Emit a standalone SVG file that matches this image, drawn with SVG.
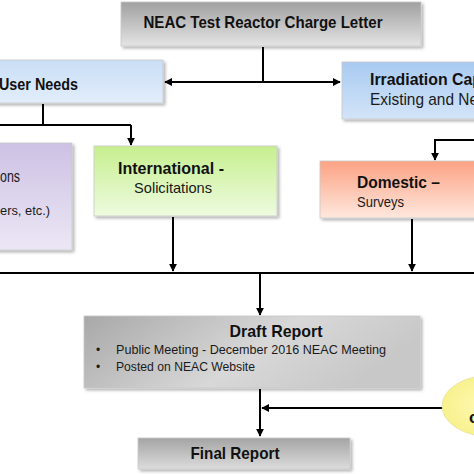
<svg xmlns="http://www.w3.org/2000/svg" width="474" height="474" viewBox="0 0 474 474">
<defs>
<linearGradient id="gGray" x1="0" y1="0" x2="0" y2="1"><stop offset="0" stop-color="#a0a0a0"/><stop offset="1" stop-color="#e4e4e4"/></linearGradient>
<linearGradient id="gDraft" x1="0" y1="0" x2="1" y2="0.3"><stop offset="0" stop-color="#a8a8a8"/><stop offset="0.6" stop-color="#d8d8d8"/><stop offset="1" stop-color="#c8c8c8"/></linearGradient>
<linearGradient id="gFinal" x1="0" y1="0" x2="0" y2="1"><stop offset="0" stop-color="#a4a4a4"/><stop offset="1" stop-color="#dcdcdc"/></linearGradient>
<linearGradient id="gBlueL" x1="0" y1="0" x2="0" y2="1"><stop offset="0" stop-color="#c9def6"/><stop offset="1" stop-color="#e2edfa"/></linearGradient>
<linearGradient id="gBlueR" x1="0" y1="0" x2="0" y2="1"><stop offset="0" stop-color="#a8caf1"/><stop offset="1" stop-color="#d3e4f8"/></linearGradient>
<linearGradient id="gGreen" x1="0" y1="0" x2="0" y2="1"><stop offset="0" stop-color="#c6ef8f"/><stop offset="1" stop-color="#eefbe0"/></linearGradient>
<linearGradient id="gPurple" x1="0" y1="0" x2="0" y2="1"><stop offset="0" stop-color="#cdc1e4"/><stop offset="1" stop-color="#ece7f5"/></linearGradient>
<linearGradient id="gOrange" x1="0" y1="0" x2="0" y2="1"><stop offset="0" stop-color="#fca283"/><stop offset="1" stop-color="#fee8de"/></linearGradient>
<radialGradient id="gYellow" cx="0.5" cy="0.5" r="0.6"><stop offset="0" stop-color="#fffbb8"/><stop offset="1" stop-color="#f7ef86"/></radialGradient>
<filter id="sh" x="-10%" y="-10%" width="130%" height="140%"><feDropShadow dx="2" dy="2" stdDeviation="1.5" flood-color="#000" flood-opacity="0.3"/></filter>
<marker id="ah" viewBox="0 0 10 10" refX="9" refY="5" markerWidth="4" markerHeight="4" orient="auto"><path d="M0,0 L10,5 L0,10 z" fill="#000"/></marker>
</defs>
<style>
.box{filter:url(#sh);stroke:#c8c8c8;stroke-width:0.8}
.t{font-family:"Liberation Sans",Arial,sans-serif;fill:#1a1a1a}
.b{font-weight:bold;fill:#111}
.ln{stroke:#000;stroke-width:2;fill:none}
.arr{marker-end:url(#ah)}
</style>

<g id="connectors">
<path class="ln" d="M263,47 V82"/>
<path class="ln arr" d="M263,82 H165"/>
<path class="ln arr" d="M263,82 H340"/>
<path class="ln" d="M43,104 V125"/>
<path class="ln" d="M0,125 H131"/>
<path class="ln arr" d="M131,125 V145"/>
<path class="ln arr" d="M474,140 H435 V160"/>
<path class="ln arr" d="M173,217 V271"/>
<path class="ln arr" d="M412,219 V271"/>
<path class="ln" d="M0,273 H474"/>
<path class="ln arr" d="M260,273 V315"/>
<path class="ln arr" d="M260,389 V436"/>
<path class="ln arr" d="M443,408 H262"/>
</g>

<g id="charge-letter">
<rect class="box" x="121" y="2" width="300" height="44" fill="url(#gGray)"/>
<text class="t b" x="263" y="28" font-size="17" text-anchor="middle" textLength="239" lengthAdjust="spacingAndGlyphs">NEAC Test Reactor Charge Letter</text>
</g>

<g id="user-needs">
<rect class="box" x="-6" y="60" width="169" height="43" fill="url(#gBlueL)"/>
<text class="t b" x="-1" y="90" font-size="17" textLength="79" lengthAdjust="spacingAndGlyphs">User Needs</text>
</g>

<g id="irradiation">
<rect class="box" x="342" y="62" width="140" height="57" fill="url(#gBlueR)"/>
<text class="t b" x="370" y="85" font-size="17" textLength="112" lengthAdjust="spacingAndGlyphs">Irradiation Cap</text>
<text class="t" x="370" y="105" font-size="17" textLength="108" lengthAdjust="spacingAndGlyphs">Existing and Ne</text>
</g>

<g id="organizations">
<rect class="box" x="-6" y="143" width="78" height="107" fill="url(#gPurple)"/>
<text class="t" x="0" y="182" font-size="16" textLength="20" lengthAdjust="spacingAndGlyphs">ons</text>
<text class="t" x="0" y="215" font-size="13" textLength="50" lengthAdjust="spacingAndGlyphs">ers, etc.)</text>
</g>

<g id="international">
<rect class="box" x="94" y="146" width="183" height="70" fill="url(#gGreen)"/>
<text class="t b" x="171" y="174" font-size="17" text-anchor="middle" textLength="106" lengthAdjust="spacingAndGlyphs">International -</text>
<text class="t" x="173" y="193" font-size="15" text-anchor="middle" textLength="78" lengthAdjust="spacingAndGlyphs">Solicitations</text>
</g>

<g id="domestic">
<rect class="box" x="320" y="161" width="160" height="57" fill="url(#gOrange)"/>
<text class="t b" x="357" y="188" font-size="17" textLength="83" lengthAdjust="spacingAndGlyphs">Domestic –</text>
<text class="t" x="357" y="207" font-size="14" textLength="47" lengthAdjust="spacingAndGlyphs">Surveys</text>
</g>

<g id="draft-report">
<rect class="box" x="84" y="316" width="336" height="72" fill="url(#gDraft)"/>
<text class="t b" x="276" y="337" font-size="17" text-anchor="middle" textLength="93" lengthAdjust="spacingAndGlyphs">Draft Report</text>
<text class="t" x="96" y="354" font-size="12">•</text>
<text class="t" x="116" y="354" font-size="13" textLength="270" lengthAdjust="spacingAndGlyphs">Public Meeting - December  2016 NEAC Meeting</text>
<text class="t" x="96" y="371" font-size="12">•</text>
<text class="t" x="116" y="371" font-size="13" textLength="139" lengthAdjust="spacingAndGlyphs">Posted on NEAC Website</text>
</g>

<g id="comments">
<ellipse cx="492" cy="406" rx="50" ry="31" fill="url(#gYellow)" stroke="#e8e0a0" stroke-width="0.8"/>
<text class="t b" x="469" y="423" font-size="17">c</text>
</g>

<g id="final-report">
<rect class="box" x="138" y="438" width="212" height="31" fill="url(#gFinal)" stroke="#8aa0b8"/>
<text class="t b" x="235" y="459" font-size="17" text-anchor="middle" textLength="89" lengthAdjust="spacingAndGlyphs">Final Report</text>
</g>
</svg>
